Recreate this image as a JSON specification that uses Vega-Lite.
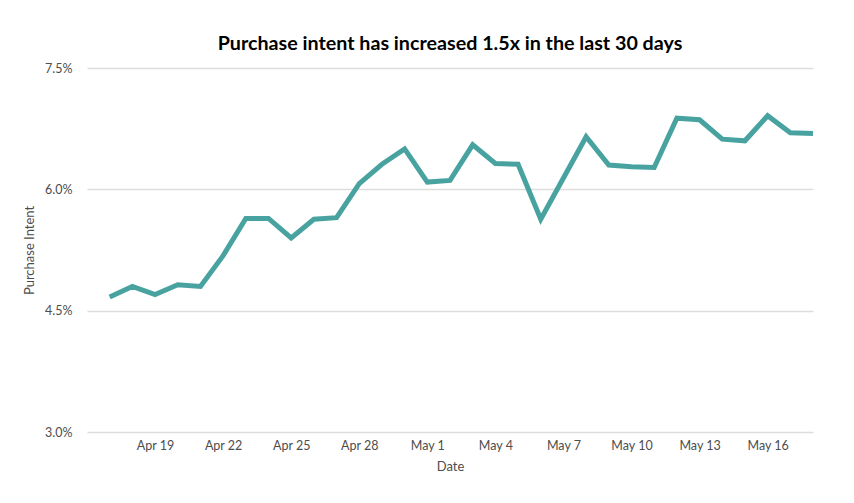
{
  "$schema": "https://vega.github.io/schema/vega-lite/v6.json",
  "width": 726,
  "height": 364,
  "autosize": "none",
  "padding": {"left": 87, "top": 68, "right": 41, "bottom": 71},
  "background": "white",
  "title": {
    "text": "Purchase intent has increased 1.5x in the last 30 days",
    "anchor": "middle",
    "font": "Lato",
    "fontSize": 19.7,
    "fontWeight": "bold",
    "color": "#000000",
    "offset": 8
  },
  "data": {
    "values": [
      {"date": "2021-04-17", "intent": 4.67},
      {"date": "2021-04-18", "intent": 4.80},
      {"date": "2021-04-19", "intent": 4.70},
      {"date": "2021-04-20", "intent": 4.82},
      {"date": "2021-04-21", "intent": 4.80},
      {"date": "2021-04-22", "intent": 5.18},
      {"date": "2021-04-23", "intent": 5.64},
      {"date": "2021-04-24", "intent": 5.64},
      {"date": "2021-04-25", "intent": 5.40},
      {"date": "2021-04-26", "intent": 5.63},
      {"date": "2021-04-27", "intent": 5.65},
      {"date": "2021-04-28", "intent": 6.07},
      {"date": "2021-04-29", "intent": 6.31},
      {"date": "2021-04-30", "intent": 6.50},
      {"date": "2021-05-01", "intent": 6.09},
      {"date": "2021-05-02", "intent": 6.11},
      {"date": "2021-05-03", "intent": 6.55},
      {"date": "2021-05-04", "intent": 6.32},
      {"date": "2021-05-05", "intent": 6.31},
      {"date": "2021-05-06", "intent": 5.63},
      {"date": "2021-05-07", "intent": 6.14},
      {"date": "2021-05-08", "intent": 6.65},
      {"date": "2021-05-09", "intent": 6.30},
      {"date": "2021-05-10", "intent": 6.28},
      {"date": "2021-05-11", "intent": 6.27},
      {"date": "2021-05-12", "intent": 6.88},
      {"date": "2021-05-13", "intent": 6.86},
      {"date": "2021-05-14", "intent": 6.62},
      {"date": "2021-05-15", "intent": 6.60},
      {"date": "2021-05-16", "intent": 6.91},
      {"date": "2021-05-17", "intent": 6.70},
      {"date": "2021-05-18", "intent": 6.69}
    ]
  },
  "mark": {"type": "line", "color": "#48a3a0", "strokeWidth": 5, "strokeJoin": "miter", "strokeCap": "butt"},
  "encoding": {
    "x": {
      "field": "date",
      "type": "temporal",
      "title": "Date",
      "scale": {"type": "utc", "domain": ["2021-04-16", "2021-05-18"]},
      "axis": {
        "values": ["2021-04-19", "2021-04-22", "2021-04-25", "2021-04-28", "2021-05-01", "2021-05-04", "2021-05-07", "2021-05-10", "2021-05-13", "2021-05-16"],
        "labelExpr": "utcFormat(datum.value, '%b %-d')",
        "grid": false,
        "domain": false,
        "ticks": false,
        "labelPadding": 7,
        "titlePadding": 9
      }
    },
    "y": {
      "field": "intent",
      "type": "quantitative",
      "title": "Purchase Intent",
      "scale": {"domain": [3, 7.5], "nice": false, "zero": false},
      "axis": {
        "values": [3, 4.5, 6, 7.5],
        "labelExpr": "format(datum.value, '.1f') + '%'",
        "domain": false,
        "ticks": false,
        "labelPadding": 15,
        "titlePadding": 8
      }
    }
  },
  "config": {
    "view": {"stroke": null},
    "axis": {
      "labelFont": "Lato",
      "titleFont": "Lato",
      "labelFontSize": 12.5,
      "titleFontSize": 13,
      "titleFontWeight": "normal",
      "labelColor": "#4d4d4d",
      "titleColor": "#4d4d4d",
      "gridColor": "#dddddd",
      "gridWidth": 1.5
    }
  }
}
